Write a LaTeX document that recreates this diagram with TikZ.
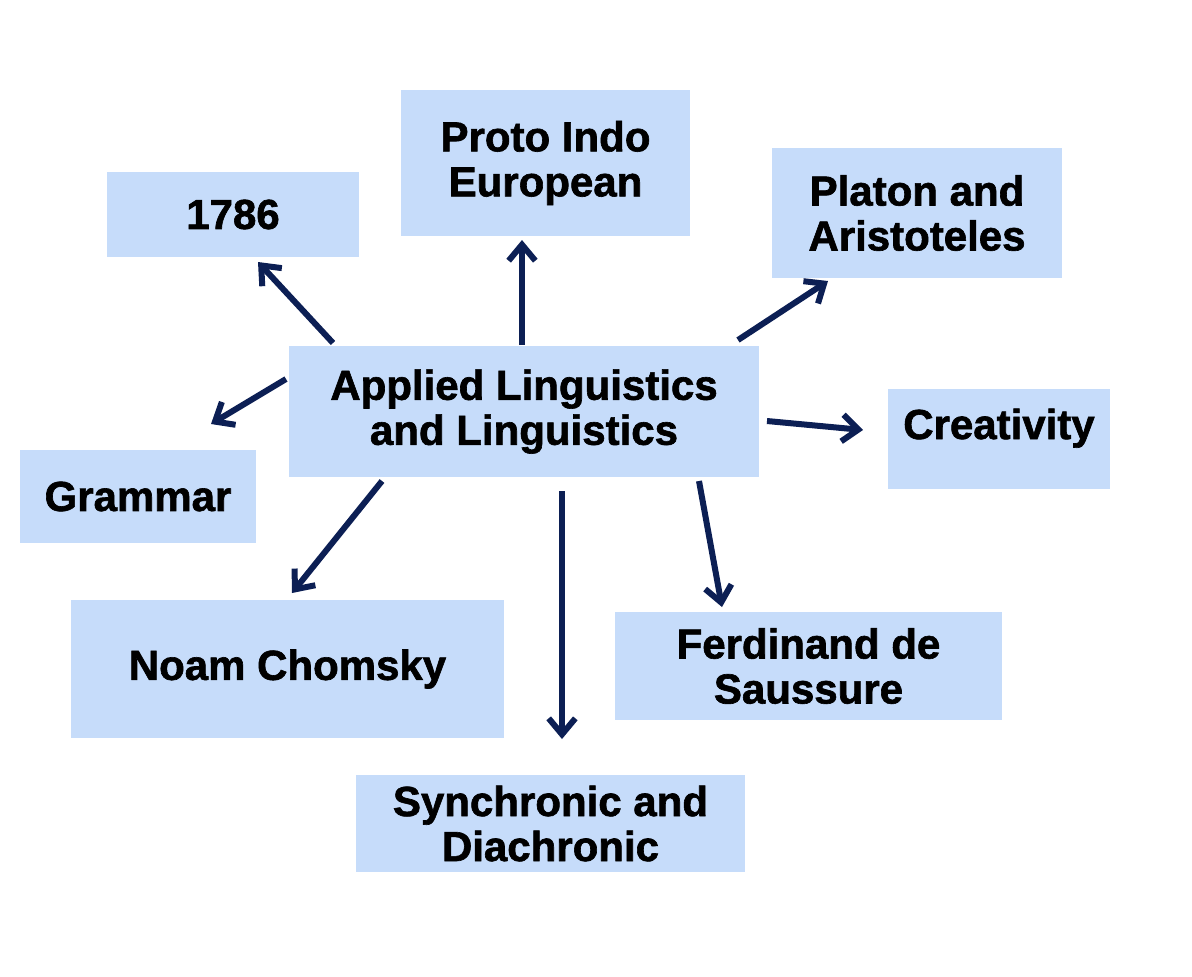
\documentclass[tikz,border=0pt]{standalone}
\usepackage{fontspec}
\setmainfont{Liberation Sans}[BoldFeatures={FakeBold=1.5}]
\usetikzlibrary{arrows.meta,positioning,calc}
\definecolor{skyfill}{HTML}{C6DCFA}
\definecolor{navy}{HTML}{0C1F54}
\tikzset{
  box/.style={rectangle, fill=skyfill, draw=none, align=center, inner sep=0pt,
              font=\fontsize{31.5}{33.75}\selectfont\bfseries, text=black},
  flow/.style={-{Straight Barb[length=12pt, width=20pt]}, draw=navy, line width=4.5pt}
}

\begin{document}
\begin{tikzpicture}[x=0.75pt, y=-0.75pt]
  \useasboundingbox (0,0) rectangle (1192,976);
  % boxes
  \node[box, minimum width=352.5pt, minimum height=98.25pt] (al) at (524,411.5) {Applied Linguistics\\and Linguistics};
  \node[box, minimum width=189pt, minimum height=63.75pt] (year) at (233,214.5) {1786};
  \node[box, minimum width=216.75pt, minimum height=109.5pt] (proto) at (545.5,163) {Proto Indo\\European};
  \node[box, minimum width=217.5pt, minimum height=97.5pt] (platon) at (917,213) {Platon and\\Aristoteles};
  \node[box, minimum width=166.5pt, minimum height=75pt, text height=20pt, text depth=20pt] (creat) at (999,439) {Creativity};
  \node[box, minimum width=177pt, minimum height=69.75pt] (gram) at (138,496.5) {Grammar};
  \node[box, minimum width=324.75pt, minimum height=103.5pt] (noam) at (287.5,669) {Noam Chomsky};
  \node[box, minimum width=290.25pt, minimum height=81pt] (ferd) at (808.5,666) {Ferdinand de\\Saussure};
  \node[box, minimum width=291.75pt, minimum height=72.75pt] (sync) at (550.5,823.5) {Synchronic and\\Diachronic};
  % arrow ends (gaps to the boxes)
  \coordinate (al-year) at (333,343);   \coordinate (to-year) at (258,262);
  \coordinate (al-proto) at (522,345);  \coordinate (to-proto) at (522,240);
  \coordinate (al-platon) at (738,340); \coordinate (to-platon) at (828,281);
  \coordinate (al-gram) at (286,379);   \coordinate (to-gram) at (211,424);
  \coordinate (al-creat) at (767,421);  \coordinate (to-creat) at (863,430);
  \coordinate (al-noam) at (382,481);   \coordinate (to-noam) at (292,593);
  \coordinate (al-sync) at (562,491);   \coordinate (to-sync) at (562,739);
  \coordinate (al-ferd) at (699,481);   \coordinate (to-ferd) at (722,607);
  \draw[flow] (al-year)--(to-year); \draw[flow] (al-proto)--(to-proto);
  \draw[flow] (al-platon)--(to-platon); \draw[flow] (al-gram)--(to-gram);
  \draw[flow] (al-creat)--(to-creat); \draw[flow] (al-noam)--(to-noam);
  \draw[flow] (al-sync)--(to-sync); \draw[flow] (al-ferd)--(to-ferd);
\end{tikzpicture}
\end{document}
